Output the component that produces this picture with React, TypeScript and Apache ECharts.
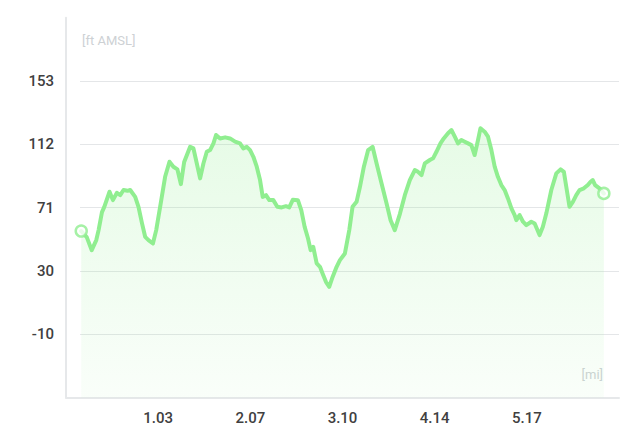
import React, { useEffect, useRef } from "react";
import * as echarts from "echarts";

// distance along the track [mi]
const distanceMi: number[] = [
  0.171, 0.233, 0.289, 0.34, 0.366, 0.404, 0.429, 0.489, 0.527, 0.572, 0.609, 0.646, 0.691, 0.721,
  0.777, 0.814, 0.853, 0.889, 0.926, 0.976, 1.013, 1.057, 1.113, 1.162, 1.206, 1.251, 1.29, 1.327,
  1.394, 1.431, 1.469, 1.506, 1.543, 1.581, 1.618, 1.656, 1.685, 1.73, 1.787, 1.842, 1.899, 1.954,
  1.991, 2.03, 2.067, 2.104, 2.142, 2.179, 2.209, 2.246, 2.283, 2.328, 2.373, 2.422, 2.47, 2.507,
  2.548, 2.604, 2.642, 2.68, 2.718, 2.747, 2.776, 2.815, 2.852, 2.881, 2.919, 2.956, 2.994, 3.039,
  3.076, 3.132, 3.181, 3.218, 3.263, 3.301, 3.345, 3.393, 3.443, 3.488, 3.543, 3.6, 3.645, 3.692,
  3.749, 3.805, 3.861, 3.917, 3.953, 3.992, 4.029, 4.086, 4.122, 4.16, 4.205, 4.242, 4.29, 4.329,
  4.366, 4.402, 4.44, 4.478, 4.515, 4.552, 4.589, 4.627, 4.654, 4.701, 4.739, 4.777, 4.814, 4.85,
  4.889, 4.926, 4.963, 5.002, 5.038, 5.057, 5.094, 5.132, 5.169, 5.225, 5.263, 5.318, 5.355, 5.394,
  5.45, 5.506, 5.554, 5.591, 5.618, 5.654, 5.692, 5.73, 5.767, 5.815, 5.86, 5.891, 5.915, 5.942,
  5.991, 6.04,
];

// elevation [ft AMSL]
const elevationFt: number[] = [
  56.0, 52.1, 43.7, 50.2, 56.6, 68.2, 71.4, 81.3, 75.9, 80.6, 79.1, 82.4, 81.9, 82.4,
  78.0, 71.6, 61.1, 52.3, 50.2, 48.0, 56.6, 71.6, 90.9, 100.6, 97.4, 95.7, 86.2, 100.4,
  110.2, 109.2, 99.5, 89.9, 99.5, 107.0, 108.1, 112.4, 117.8, 115.6, 116.3, 115.6, 113.5, 112.4,
  109.2, 110.2, 108.1, 103.8, 97.4, 88.8, 78.0, 79.1, 75.9, 75.9, 71.6, 71.2, 72.0, 71.2,
  76.2, 75.9, 69.5, 58.7, 51.2, 43.7, 45.9, 35.2, 33.0, 28.7, 23.3, 20.1, 26.5, 33.0,
  37.3, 41.6, 56.6, 71.6, 74.8, 84.5, 97.4, 108.1, 110.2, 99.5, 86.7, 73.8, 63.0, 56.6,
  66.9, 79.1, 88.8, 95.2, 94.1, 92.0, 99.5, 101.7, 102.8, 107.0, 112.4, 115.6, 118.9, 121.0,
  116.7, 112.4, 114.6, 113.5, 112.4, 111.3, 104.9, 114.6, 122.1, 119.9, 116.7, 108.1, 97.4, 90.9,
  85.6, 82.4, 77.0, 70.6, 66.3, 63.0, 66.3, 62.0, 59.8, 62.0, 60.9, 53.4, 58.7, 67.4,
  82.4, 93.1, 95.7, 94.1, 84.5, 71.6, 74.8, 79.1, 82.4, 83.5, 85.6, 87.7, 88.8, 85.6,
  83.5, 80.2,
];

// axis scales
const xMin = 0;
const xMax = 6.21;
const xInterval = 1.035;
const yMin = -51.1;
const yMax = 193.28;
const yInterval = 40.73;

const yAxisName = "[ft AMSL]";
const xAxisName = "[mi]";

const FONT = "Roboto, 'Noto Sans', sans-serif";
const GREEN = "#90ee90";

export default function App() {
  const ref = useRef<HTMLDivElement>(null);

  useEffect(() => {
    document.body.style.margin = "0";
    if (!ref.current) return;
    const chart = echarts.init(ref.current, null, { renderer: "svg" });

    const lineData = distanceMi.map((d, i) => [d, elevationFt[i]]);
    const endPoints = [lineData[0], lineData[lineData.length - 1]];

    chart.setOption({
      animation: false,
      backgroundColor: "#ffffff",
      textStyle: { fontFamily: FONT },
      grid: [
        { left: 66, right: 21, top: 17.7, bottom: 38.5 },
        { left: 80, right: 21, top: 17.7, bottom: 38.5 },
      ],
      xAxis: [
        {
          type: "value",
          gridIndex: 0,
          min: xMin,
          max: xMax,
          interval: xInterval,
          axisLine: { show: true, onZero: false, lineStyle: { color: "#e6e8ea", width: 2 } },
          axisTick: { show: false },
          splitLine: { show: false },
          axisLabel: {
            show: true,
            showMinLabel: false,
            showMaxLabel: false,
            margin: 13,
            fontSize: 15,
            fontWeight: 500,
            color: "#404040",
            fontFamily: FONT,
            formatter: (v: number) => (Math.floor(v * 100 + 1e-6) / 100).toFixed(2),
          },
        },
        {
          type: "value",
          gridIndex: 1,
          min: xMin,
          max: xMax,
          show: false,
        },
      ],
      yAxis: [
        {
          type: "value",
          gridIndex: 0,
          min: yMin,
          max: yMax,
          interval: yInterval,
          axisLine: { show: true, onZero: false, lineStyle: { color: "#e6e8ea", width: 2 } },
          axisTick: { show: false },
          splitLine: { show: false },
          axisLabel: {
            show: true,
            showMinLabel: false,
            showMaxLabel: false,
            margin: 12,
            fontSize: 15,
            fontWeight: 500,
            color: "#404040",
            fontFamily: FONT,
            formatter: (v: number) => String(Math.round(v)),
          },
        },
        {
          type: "value",
          gridIndex: 1,
          min: yMin,
          max: yMax,
          interval: yInterval,
          axisLine: { show: false },
          axisTick: { show: false },
          axisLabel: { show: false },
          splitLine: {
            show: true,
            showMinLine: false,
            showMaxLine: false,
            lineStyle: { color: "#e4e6e8", width: 1 },
          },
        },
      ],
      graphic: [
        {
          type: "text",
          left: 82,
          top: 34,
          style: { text: yAxisName, fontSize: 13, fill: "#cdd1d4", fontFamily: FONT },
        },
        {
          type: "text",
          right: 37,
          top: 368,
          style: { text: xAxisName, fontSize: 13, fill: "#cdd1d4", fontFamily: FONT },
        },
      ],
      series: [
        {
          type: "line",
          xAxisIndex: 0,
          yAxisIndex: 0,
          data: lineData,
          symbol: "none",
          smooth: false,
          lineStyle: { color: GREEN, width: 4, join: "round", cap: "round" },
          areaStyle: {
            origin: "start",
            color: new echarts.graphic.LinearGradient(0, 0, 0, 1, [
              { offset: 0, color: "rgba(144,238,144,0.32)" },
              { offset: 1, color: "rgba(144,238,144,0.07)" },
            ]),
          },
          z: 2,
        },
        {
          type: "scatter",
          xAxisIndex: 0,
          yAxisIndex: 0,
          data: endPoints,
          symbol: "circle",
          symbolSize: 11,
          itemStyle: { color: "#ffffff", borderColor: GREEN, borderWidth: 2.5 },
          z: 3,
        },
      ],
    });

    return () => chart.dispose();
  }, []);

  return <div ref={ref} style={{ width: 640, height: 436 }} />;
}
